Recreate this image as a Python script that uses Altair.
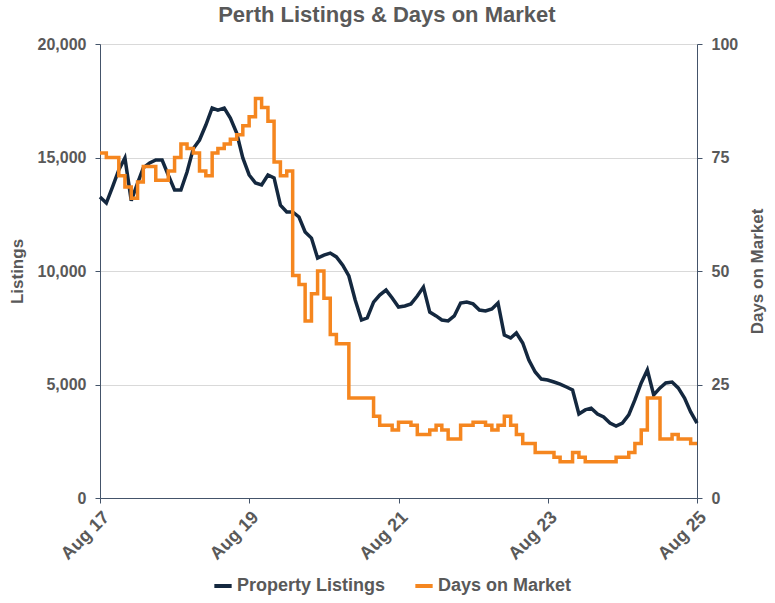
import altair as alt
import pandas as pd

# Monthly observations, Aug 2017 .. Aug 2025
dates = pd.date_range("2017-08-01", periods=97, freq="MS").strftime("%Y-%m-%d").tolist()

listings = [
    13260, 12995, 13700, 14450, 14980, 13100, 13875, 14540, 14760, 14890,
    14890, 14230, 13570, 13570, 14360, 15400, 15770, 16430, 17180, 17090,
    17180, 16740, 16080, 14980, 14230, 13875, 13790, 14230, 14100, 12900,
    12600, 12600, 12380, 11720, 11450, 10570, 10700, 10790, 10620, 10260,
    9780, 8720, 7840, 7930, 8630, 8940, 9160, 8810, 8410, 8460,
    8550, 8900, 9290, 8190, 8020, 7840, 7800, 8020, 8590, 8630,
    8550, 8280, 8240, 8330, 8590, 7180, 7050, 7270, 6830, 6080,
    5550, 5240, 5200, 5110, 5020, 4890, 4760, 3700, 3880, 3960,
    3700, 3570, 3300, 3170, 3300, 3660, 4320, 5070, 5640, 4540,
    4850, 5070, 5110, 4850, 4400, 3790, 3300,
]

days_on_market = [
    76, 75, 75, 71, 68.5, 66, 69.6, 73, 73, 70,
    70, 72, 75, 78, 77, 76, 72, 71, 76, 77,
    78, 79, 80, 82, 84, 88, 86, 83, 74, 71,
    72, 49, 47, 39, 45, 50, 44, 36, 34, 34,
    22, 22, 22, 22, 18, 16, 16, 15, 16.7, 16.7,
    16, 14, 14, 15, 16, 15, 13, 13, 16, 16,
    16.7, 16.7, 16, 15, 16, 18, 16, 14, 12, 12,
    10, 10, 10, 9, 8, 8, 10, 9, 8, 8,
    8, 8, 8, 9, 9, 10, 12, 15, 22, 22,
    13, 13, 14, 13, 13, 12, 12,
]

series_names = ["Property Listings", "Days on Market"]
series_colors = ["#14283f", "#f5861f"]
tick_years = [2017, 2019, 2021, 2023, 2025]

df_l = pd.DataFrame({"date": dates, "value": listings, "series": series_names[0]})
df_d = pd.DataFrame({"date": dates, "value": days_on_market, "series": series_names[1]})

FONT = "Liberation Sans"
TXT = "#595959"
AX = "#44546a"

x_enc = alt.X(
    "date:T",
    scale=alt.Scale(type="utc", domain=[alt.DateTime(year=2017, month=8, date=1, utc=True),
                                        alt.DateTime(year=2025, month=8, date=1, utc=True)]),
    axis=alt.Axis(
        values=[alt.DateTime(year=y, month=8, date=1, utc=True) for y in tick_years],
        labelExpr="utcFormat(datum.value, '%b %y')",
        labelAngle=-45,
        title=None,
        grid=False,
        domainColor=AX,
        tickColor=AX,
        tickSize=5,
        labelFont=FONT,
        labelFontSize=18,
        labelFontWeight="bold",
        labelColor=TXT,
        labelPadding=5,
    ),
)

color_enc = alt.Color(
    "series:N",
    scale=alt.Scale(domain=series_names, range=series_colors),
    legend=alt.Legend(
        title=None,
        orient="none",
        direction="horizontal",
        legendX=112,
        legendY=531,
        symbolType="stroke",
        symbolStrokeWidth=4,
        symbolSize=300,
        labelFont=FONT,
        labelFontSize=18,
        labelFontWeight="bold",
        labelColor=TXT,
        columnPadding=21,
        labelOffset=3,
    ),
)

line_l = alt.Chart(df_l).mark_line(strokeWidth=3.5).encode(
    x=x_enc,
    y=alt.Y(
        "value:Q",
        scale=alt.Scale(domain=[0, 20000], nice=False),
        axis=alt.Axis(
            title="Listings",
            values=[0, 5000, 10000, 15000, 20000],
            format=",.0f",
            orient="left",
            grid=True,
            gridColor="#d9d9d9",
            gridWidth=1,
            domainColor=AX,
            tickColor=AX,
            tickSize=5,
            labelFont=FONT,
            labelFontSize=16,
            labelFontWeight="bold",
            labelColor=TXT,
            labelPadding=9,
            titleFont=FONT,
            titleFontSize=17,
            titleFontWeight="bold",
            titleColor=TXT,
            titlePadding=11,
        ),
    ),
    color=color_enc,
)

line_d = alt.Chart(df_d).mark_line(strokeWidth=3.5, interpolate="step-after").encode(
    x=x_enc,
    y=alt.Y(
        "value:Q",
        scale=alt.Scale(domain=[0, 100], nice=False),
        axis=alt.Axis(
            title="Days on Market",
            values=[0, 25, 50, 75, 100],
            orient="right",
            grid=False,
            domainColor=AX,
            tickColor=AX,
            tickSize=5,
            labelFont=FONT,
            labelFontSize=16,
            labelFontWeight="bold",
            labelColor=TXT,
            labelPadding=9,
            titleFont=FONT,
            titleFontSize=17,
            titleFontWeight="bold",
            titleColor=TXT,
            titleAngle=270,
            titleBaseline="top",
            titlePadding=12,
        ),
    ),
    color=color_enc,
)

chart = (
    alt.layer(line_l, line_d)
    .resolve_scale(y="independent")
    .properties(
        width=597,
        height=454,
        autosize=alt.AutoSizeParams(type="none"),
        padding={"left": 100, "top": 44, "right": 78, "bottom": 105},
        title=alt.TitleParams(
            "Perth Listings & Days on Market",
            font=FONT,
            fontSize=22,
            fontWeight="bold",
            color=TXT,
            anchor="middle",
            frame="bounds",
            offset=9,
        ),
    )
    .configure_view(stroke=None)
    .configure(background="white")
)

chart.save("out.html", embed_options={"renderer": "svg", "actions": False})
